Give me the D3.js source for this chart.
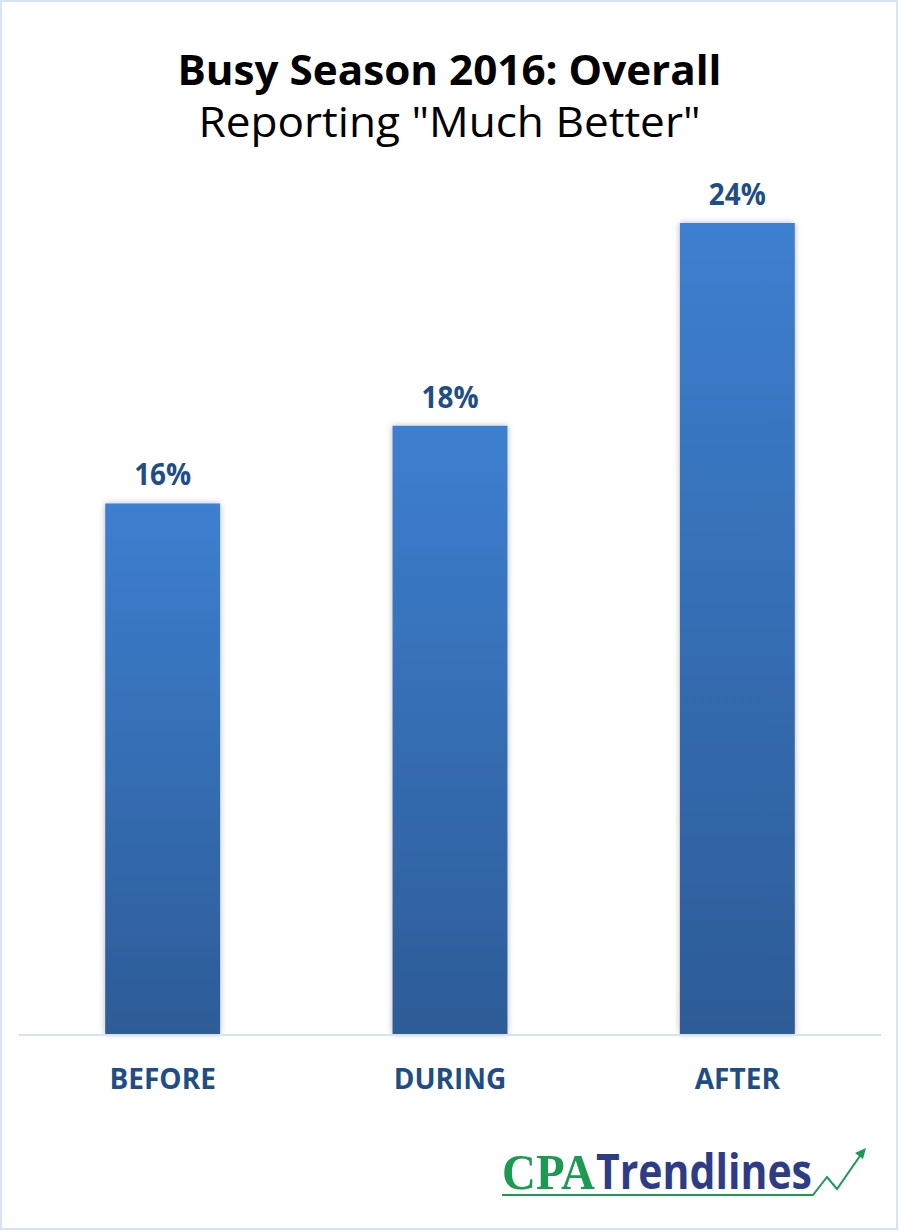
<!DOCTYPE html>
<html>
<head>
<meta charset="utf-8">
<script src="https://cdn.jsdelivr.net/npm/d3@7"></script>
<style>
  html, body { margin: 0; padding: 0; background: #fff; }
  svg { display: block; }
</style>
</head>
<body>
<div id="chart"></div>
<script>
// Data
const categories = ["BEFORE", "DURING", "AFTER"];
const values = [15.7, 18.0, 24.0];        // percent
const valueLabels = ["16%", "18%", "24%"];

const width = 899;
const height = 1231;
const baseY = 1034;
const m = { left: 19, right: 18 };

const svg = d3.select("#chart").append("svg")
    .attr("width", width)
    .attr("height", height);

const defs = svg.append("defs");

// Vertical gradient on the bars: lighter on top, darker at the bottom
const grad = defs.append("linearGradient")
    .attr("id", "barGrad")
    .attr("x1", 0).attr("y1", 0).attr("x2", 0).attr("y2", 1);
grad.append("stop").attr("offset", "0%").attr("stop-color", "#3d7fd0");
grad.append("stop").attr("offset", "100%").attr("stop-color", "#2d5c97");

// Soft shadow around the bars
const shadow = defs.append("filter")
    .attr("id", "barShadow")
    .attr("x", "-20%").attr("y", "-5%")
    .attr("width", "140%").attr("height", "110%");
shadow.append("feDropShadow")
    .attr("dx", 0).attr("dy", 0)
    .attr("stdDeviation", 3)
    .attr("flood-color", "#000")
    .attr("flood-opacity", 0.28);

// Outer frame
svg.append("rect")
    .attr("x", 1).attr("y", 1)
    .attr("width", width - 3).attr("height", height - 3)
    .attr("fill", "#fff")
    .attr("stroke", "#d5e3f4")
    .attr("stroke-width", 2);

// Titles
svg.append("text")
    .attr("x", width / 2)
    .attr("y", 85)
    .attr("text-anchor", "middle")
    .attr("font-family", "'Open Sans', sans-serif")
    .attr("font-weight", "bold")
    .attr("font-size", 42)
    .attr("textLength", 544)
    .attr("lengthAdjust", "spacingAndGlyphs")
    .attr("fill", "#000")
    .text("Busy Season 2016: Overall");

svg.append("text")
    .attr("x", width / 2)
    .attr("y", 137)
    .attr("text-anchor", "middle")
    .attr("font-family", "'Open Sans', sans-serif")
    .attr("font-size", 42)
    .attr("textLength", 502)
    .attr("lengthAdjust", "spacingAndGlyphs")
    .attr("fill", "#000")
    .text("Reporting \"Much Better\"");

// Scales
const x = d3.scaleBand()
    .domain(categories)
    .range([m.left, width - m.right])
    .paddingInner(0.6)
    .paddingOuter(0.3);

const y = d3.scaleLinear()
    .domain([0, 24])
    .range([baseY, 223]);

const data = categories.map((c, i) => ({ cat: c, value: values[i], label: valueLabels[i] }));

// Bars
svg.append("g").attr("class", "bars-group")
    .selectAll("rect")
    .data(data)
    .enter()
    .append("rect")
    .attr("x", d => x(d.cat))
    .attr("y", d => y(d.value))
    .attr("width", x.bandwidth())
    .attr("height", d => y(0) - y(d.value))
    .attr("fill", "url(#barGrad)")
    .attr("filter", "url(#barShadow)");

// Baseline
svg.append("line")
    .attr("x1", m.left).attr("x2", width - m.right)
    .attr("y1", baseY + 1).attr("y2", baseY + 1)
    .attr("stroke", "#d5e3f4")
    .attr("stroke-width", 2);

// Value labels
svg.append("g").attr("class", "value-labels")
    .selectAll("text")
    .data(data)
    .enter()
    .append("text")
    .attr("x", d => x(d.cat) + x.bandwidth() / 2)
    .attr("y", d => y(d.value) - 18)
    .attr("text-anchor", "middle")
    .attr("font-family", "'Open Sans', sans-serif")
    .attr("font-weight", "bold")
    .attr("font-size", 31)
    .attr("textLength", 57)
    .attr("lengthAdjust", "spacingAndGlyphs")
    .attr("fill", "#1f4d86")
    .text(d => d.label);

// Category axis labels
const xAxis = svg.append("g")
    .attr("transform", `translate(0, ${baseY})`)
    .call(d3.axisBottom(x).tickSize(0).tickPadding(55));
xAxis.select(".domain").remove();
xAxis.selectAll("text")
    .attr("font-family", "'Open Sans', sans-serif")
    .attr("font-weight", "bold")
    .attr("font-size", 28)
    .attr("fill", "#1f4d86")
    .attr("dy", 0);

// CPA Trendlines logo
const logo = svg.append("g").attr("class", "logo");
logo.append("text")
    .attr("x", 502).attr("y", 1189)
    .attr("font-family", "'Liberation Serif', serif")
    .attr("font-weight", "bold")
    .attr("font-size", 51)
    .attr("textLength", 93)
    .attr("lengthAdjust", "spacingAndGlyphs")
    .attr("fill", "#1b9a52")
    .text("CPA");
logo.append("text")
    .attr("x", 596).attr("y", 1189)
    .attr("font-family", "'Open Sans', sans-serif")
    .attr("font-weight", "bold")
    .attr("font-size", 48)
    .attr("textLength", 216)
    .attr("lengthAdjust", "spacingAndGlyphs")
    .attr("fill", "#2e3c87")
    .text("Trendlines");
logo.append("path")
    .attr("d", "M502,1195 L813,1195 L827,1177 L837,1189 L862,1153")
    .attr("fill", "none")
    .attr("stroke", "#1b9a52")
    .attr("stroke-width", 2);
logo.append("path")
    .attr("d", "M866,1148 L855,1153 L863,1159 Z")
    .attr("fill", "#1b9a52");
</script>
</body>
</html>
